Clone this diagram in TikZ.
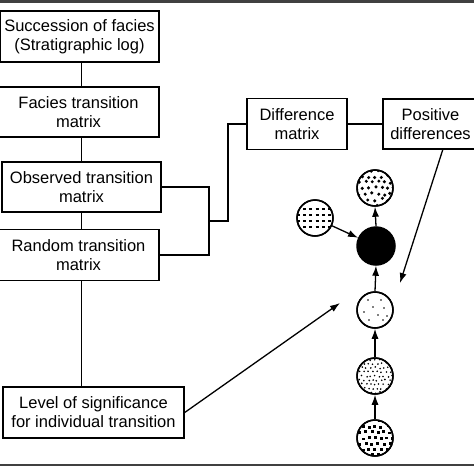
\documentclass[tikz,border=0pt]{standalone}
\usepackage{fontspec}
\setmainfont{Liberation Sans}
\usetikzlibrary{arrows.meta,calc}
\tikzset{
  box/.style={draw, line width=1.4pt, align=center, inner sep=0pt,
    font=\fontsize{16.5}{19}\selectfont},
  conn/.style={line width=1.3pt},
  arr/.style={line width=1.3pt, -{Latex[length=10pt,width=7pt]}},
  fac/.style={circle, draw, line width=1.5pt, minimum size=36pt, inner sep=0pt},
  frameline/.style={line width=2.5pt, draw=black!75}
}
\begin{document}
\begin{tikzpicture}[x=1pt,y=-1pt]
\fill[white] (0,0) rectangle (474,474);
\useasboundingbox (0,0) rectangle (474,474);
\draw[frameline] (0,1.5) -- (474,1.5);
\draw[frameline] (0,465) -- (474,465);

% boxes
\node[box, minimum width=159pt, minimum height=51pt] (b1) at (79.5,36.5) {Succession of facies\\(Stratigraphic log)};
\node[box, minimum width=161pt, minimum height=50pt] (b2) at (78.5,112) {Facies transition\\matrix};
\node[box, minimum width=159pt, minimum height=50pt] (b3) at (81.5,187) {Observed transition\\matrix};
\node[box, minimum width=161pt, minimum height=51pt] (b4) at (78.5,255) {Random transition\\matrix};
\node[box, minimum width=181pt, minimum height=51pt] (b5) at (93.5,412.5) {Level of significance\\for individual transition};
\node[box, minimum width=100pt, minimum height=51pt] (diff) at (297,124) {Difference\\matrix};
\node[box, minimum width=95pt, minimum height=50pt] (pos) at (430.5,124) {Positive\\differences};

% vertical chain
\draw[conn] (b3.north |- b1.south) -- (b3.north |- b2.north);
\draw[conn] (b3.north |- b2.south) -- (b3.north);
\draw[conn] (b3.south) -- (b3.south |- b4.north);
\draw[conn] (b3.south |- b4.south) -- (b3.south |- b5.north);

% bracket
\coordinate (jn) at (209,221);
\draw[conn] (b3.east) -| (jn) |- (b4.east);
\draw[conn] (jn) -- (228,221) |- (diff.west);
\draw[conn] (diff.east) -- (pos.west);

% facies circles
\node[fac] (ctop) at (375,188) {};
\node[fac] (cdash) at (315,218) {};
\node[fac, fill=black, minimum size=38pt] (cblk) at (376,246) {};
\node[fac] (c1) at (375,310) {};
\node[fac] (c2) at (375,376) {};
\node[fac] (c3) at (375,438) {};

\pgfmathsetseed{7}
% top: coarse dots
\begin{scope}
\clip (ctop) circle (17.5);
\foreach \i in {-3,...,3}
  \foreach \j in {-3,...,3}{
    \pgfmathsetmacro{\dx}{\i*6.4+3.2*mod(\j+10,2)+rand*1.3}
    \pgfmathsetmacro{\dy}{\j*5.8+rand*1.3}
    \fill ($(ctop)+(\dx,\dy)$) circle (1.7);
  }
\end{scope}
% dashed lines
\begin{scope}
\clip (cdash) circle (17.5);
\foreach \k in {-9,-3,3,9}
  \draw[line width=1.6pt, dash pattern=on 3pt off 3.2pt] ($(cdash)+(-18,\k)$) -- ($(cdash)+(18,\k)$);
\end{scope}
% c1 sparse dots
\foreach \a/\b in {-7/-10,6/-10,-2/-3,9/-2,-11/2,3/5,-6/10,8/10,12/6}
  \fill ($(c1)+(\a,\b)$) circle (0.9);
% c2 fine dots
\begin{scope}
\clip (c2) circle (17.5);
\foreach \i in {-4,...,4}
  \foreach \j in {-4,...,4}{
    \pgfmathsetmacro{\dx}{\i*4.3+2.1*mod(\j+10,2)+rand*0.9}
    \pgfmathsetmacro{\dy}{\j*4.1+rand*0.9}
    \fill ($(c2)+(\dx,\dy)$) circle (0.9);
  }
\end{scope}
% c3 coarse squares
\begin{scope}
\clip (c3) circle (17.5);
\foreach \i in {-3,...,3}
  \foreach \j in {-3,...,3}{
    \pgfmathsetmacro{\dx}{\i*6.2+3.1*mod(\j+10,2)+rand*1.0}
    \pgfmathsetmacro{\dy}{\j*5.8+rand*1.0}
    \fill ($(c3)+(\dx,\dy)+(-1.5,-1.4)$) rectangle ++(3,2.8);
  }
\end{scope}
% redraw outlines
\foreach \c in {ctop,cdash,c1,c2,c3}
  \draw[line width=1.5pt] (\c) circle (18);

% arrows among circles
\draw[arr] (c3.north) -- (c2.south);
\draw[arr] (c2.north) -- (c1.south);
\draw[arr] (c1.north) -- (cblk.south);
\draw[arr] (cblk.north) -- (ctop.south);
\draw[arr] (cdash) -- (cblk);

% long arrows
\coordinate (pa) at (443,149);
\coordinate (pt) at (400,283);
\draw[arr] (pa) -- (pt);
\coordinate (lt) at (340,303);
\draw[arr] (b5.east) -- (lt);
\end{tikzpicture}
\end{document}
